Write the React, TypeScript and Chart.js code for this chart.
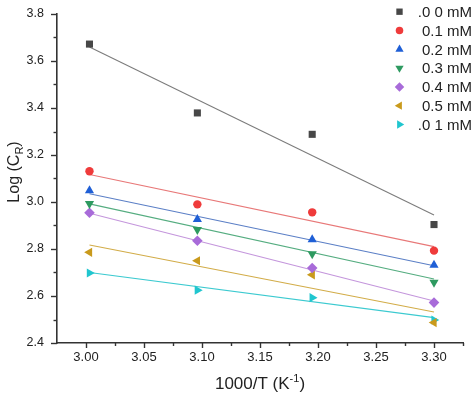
import React, { useEffect, useRef } from 'react';
import { Chart, registerables } from 'chart.js';

Chart.register(...registerables);

// ---- data ----
const xValues = [3.003, 3.096, 3.195, 3.3];
const seriesLabels = ['.0 0 mM', '0.1 mM', '0.2 mM', '0.3 mM', '0.4 mM', '0.5 mM', '.0 1 mM'];
const s00 = [3.672, 3.379, 3.288, 2.904];
const s01 = [3.131, 2.99, 2.956, 2.793];
const s02 = [3.049, 2.926, 2.84, 2.732];
const s03 = [2.993, 2.882, 2.779, 2.658];
const s04 = [2.954, 2.835, 2.719, 2.572];
const s05 = [2.786, 2.75, 2.69, 2.487];
const s06 = [2.698, 2.625, 2.593, 2.498];
const seriesValues = [s00, s01, s02, s03, s04, s05, s06];
// fitted lines: value at first x and at last x
const fitStart = [3.66, 3.117, 3.035, 2.992, 2.952, 2.817, 2.7];
const fitEnd = [2.945, 2.81, 2.729, 2.672, 2.579, 2.532, 2.508];
const xTickValues = [3.0, 3.05, 3.1, 3.15, 3.2, 3.25, 3.3];
const yTickValues = [2.4, 2.6, 2.8, 3.0, 3.2, 3.4, 3.6, 3.8];

// ---- styles ----
const pointColors = ['#474747', '#ef3b3b', '#1f5fd6', '#2e9a60', '#a86bd9', '#c99a1c', '#20c6cf'];
const lineColors = ['#7c7c7c', '#e87878', '#5b7fc6', '#55ad80', '#c496dc', '#d2ac48', '#3ccad0'];
const pointStyles = ['rect', 'circle', 'triangle', 'triangle', 'rectRot', 'triangle', 'triangle'];
const pointRotations = [0, 0, 0, 180, 0, -90, 90];
const pointRadii = [5, 4.2, 5.3, 5.3, 5.3, 5.3, 5.3];

const FONT = 'Arial, "Liberation Sans", Helvetica, sans-serif';

function drawMarker(ctx: CanvasRenderingContext2D, style: string, rotation: number, x: number, y: number, r: number, color: string) {
  ctx.save();
  ctx.fillStyle = color;
  ctx.beginPath();
  let rad = (rotation * Math.PI) / 180;
  if (style === 'circle') {
    ctx.arc(x, y, r, 0, Math.PI * 2);
  } else if (style === 'rect') {
    const s = r * Math.SQRT1_2;
    ctx.rect(x - s, y - s, 2 * s, 2 * s);
  } else if (style === 'rectRot') {
    ctx.moveTo(x, y - r);
    ctx.lineTo(x + r, y);
    ctx.lineTo(x, y + r);
    ctx.lineTo(x - r, y);
    ctx.closePath();
  } else {
    ctx.moveTo(x + Math.sin(rad) * r, y - Math.cos(rad) * r);
    rad += (2 * Math.PI) / 3;
    ctx.lineTo(x + Math.sin(rad) * r, y - Math.cos(rad) * r);
    rad += (2 * Math.PI) / 3;
    ctx.lineTo(x + Math.sin(rad) * r, y - Math.cos(rad) * r);
    ctx.closePath();
  }
  ctx.fill();
  ctx.restore();
}

type Part = { text: string; size: number; dy: number };

function drawRich(ctx: CanvasRenderingContext2D, parts: Part[], cx: number, baseline: number) {
  let total = 0;
  const widths = parts.map((p) => {
    ctx.font = `${p.size}px ${FONT}`;
    const w = ctx.measureText(p.text).width;
    total += w;
    return w;
  });
  let x = cx - total / 2;
  ctx.textAlign = 'left';
  ctx.textBaseline = 'alphabetic';
  parts.forEach((p, i) => {
    ctx.font = `${p.size}px ${FONT}`;
    ctx.fillText(p.text, x, baseline + p.dy);
    x += widths[i];
  });
}

const decorPlugin = {
  id: 'decor',
  afterDraw(chart: any) {
    const ctx: CanvasRenderingContext2D = chart.ctx;
    const xs = chart.scales.x;
    const ys = chart.scales.y;
    const area = chart.chartArea;
    ctx.save();
    ctx.strokeStyle = '#333';
    ctx.lineWidth = 1.4;
    // y ticks
    for (let k = 24; k <= 38; k++) {
      const v = k / 10;
      const major = k % 2 === 0;
      const py = Math.round(ys.getPixelForValue(v)) + 0.5;
      ctx.beginPath();
      ctx.moveTo(area.left, py);
      ctx.lineTo(area.left - (major ? 6 : 3.5), py);
      ctx.stroke();
    }
    // x ticks
    for (let i = 1; i <= 14; i++) {
      const v = 2.975 + i * 0.025;
      const major = i % 2 === 1;
      const px = Math.round(xs.getPixelForValue(v)) + 0.5;
      ctx.beginPath();
      ctx.moveTo(px, area.bottom);
      ctx.lineTo(px, area.bottom + (major ? 5 : 3));
      ctx.stroke();
    }
    ctx.fillStyle = '#222';
    // x title
    drawRich(
      ctx,
      [
        { text: '1000/T (K', size: 17, dy: 0 },
        { text: '-1', size: 11, dy: -7 },
        { text: ')', size: 17, dy: 0 },
      ],
      (area.left + area.right) / 2,
      389
    );
    // y title
    ctx.save();
    ctx.translate(13, 172);
    ctx.rotate(-Math.PI / 2);
    drawRich(
      ctx,
      [
        { text: 'Log (C', size: 16, dy: 0 },
        { text: 'R', size: 11, dy: 4 },
        { text: ')', size: 16, dy: 0 },
      ],
      0,
      6
    );
    ctx.restore();
    // legend
    for (let i = 0; i < seriesLabels.length; i++) {
      const cy = 11.7 + i * 18.8;
      drawMarker(ctx, pointStyles[i], pointRotations[i], 399.5, cy, pointRadii[i] * 0.9, pointColors[i]);
      ctx.fillStyle = '#222';
      ctx.font = `15px ${FONT}`;
      ctx.textAlign = 'right';
      ctx.textBaseline = 'alphabetic';
      ctx.fillText(seriesLabels[i], 472, cy + 5.2);
    }
    ctx.restore();
  },
};

export default function App() {
  const canvasRef = useRef<HTMLCanvasElement | null>(null);

  useEffect(() => {
    const canvas = canvasRef.current;
    if (!canvas) return;

    const fitSets = seriesValues.map((_, i) => ({
      label: 'fit ' + i,
      data: [
        { x: xValues[0], y: fitStart[i] },
        { x: xValues[xValues.length - 1], y: fitEnd[i] },
      ],
      showLine: true,
      borderColor: lineColors[i],
      borderWidth: 1.1,
      pointRadius: 0,
      order: 2,
    }));
    const pointSets = seriesValues.map((vals, i) => ({
      label: seriesLabels[i],
      data: vals.map((v, j) => ({ x: xValues[j], y: v })),
      showLine: false,
      pointStyle: pointStyles[i],
      rotation: pointRotations[i],
      pointRadius: pointRadii[i],
      backgroundColor: pointColors[i],
      borderColor: pointColors[i],
      borderWidth: 0,
      order: 1,
    }));

    const chart = new Chart(canvas, {
      type: 'scatter',
      data: { datasets: [...fitSets, ...pointSets] as any },
      options: {
        animation: false,
        responsive: false,
        maintainAspectRatio: false,
        layout: { padding: { top: 14, right: 11, left: 0, bottom: 0 } },
        plugins: { legend: { display: false }, tooltip: { enabled: false } },
        scales: {
          x: {
            type: 'linear',
            min: 2.975,
            max: 3.325,
            grid: { display: false, drawTicks: false },
            border: { display: true, color: '#333', width: 1.6 },
            afterBuildTicks: (scale: any) => {
              scale.ticks = xTickValues.map((v) => ({ value: v }));
            },
            afterFit: (scale: any) => {
              scale.height = 54;
              scale.paddingLeft = 0;
              scale.paddingRight = 0;
              scale.paddingTop = 0;
              scale.paddingBottom = 0;
            },
            ticks: {
              autoSkip: false,
              maxRotation: 0,
              padding: 7,
              color: '#222',
              font: { size: 13, family: FONT },
              callback: (v: any) => Number(v).toFixed(2),
            },
          },
          y: {
            type: 'linear',
            min: 2.4,
            max: 3.8,
            grid: { display: false, drawTicks: false },
            border: { display: true, color: '#333', width: 1.6 },
            afterBuildTicks: (scale: any) => {
              scale.ticks = yTickValues.map((v) => ({ value: v }));
            },
            afterFit: (scale: any) => {
              scale.width = 57;
              scale.paddingLeft = 0;
              scale.paddingRight = 0;
              scale.paddingTop = 0;
              scale.paddingBottom = 0;
            },
            ticks: {
              autoSkip: false,
              padding: 13,
              color: '#222',
              font: { size: 12.5, family: FONT },
              callback: (v: any) => Number(v).toFixed(1),
            },
          },
        },
      },
      plugins: [decorPlugin],
    });

    return () => chart.destroy();
  }, []);

  return (
    <div style={{ position: 'absolute', left: 0, top: 0, width: 474, height: 397, background: '#fff' }}>
      <canvas ref={canvasRef} width={474} height={397} style={{ display: 'block' }} />
    </div>
  );
}
